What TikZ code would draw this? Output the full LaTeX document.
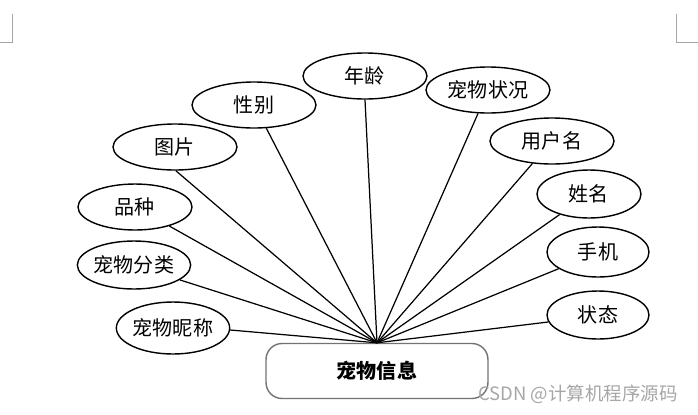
\documentclass[tikz,border=0pt]{standalone}
\usepackage{fontspec}
\setmainfont{Noto Sans CJK SC}
\usetikzlibrary{shapes.geometric}
\begin{document}
\begin{tikzpicture}[x=0.02cm,y=-0.02cm,
		font=\fontsize{11.4}{13.5}\selectfont,
		attr/.style={ellipse,draw,line width=0.8pt,inner sep=0pt,minimum width=2.48cm,minimum height=0.92cm},
		entity/.style={rectangle,draw=black!55,line width=0.8pt,rounded corners=0.32cm,minimum width=4.44cm,minimum height=1.1cm,font=\fontsize{11.4}{13.5}\selectfont\bfseries},
		link/.style={line width=0.7pt},
		cropMark/.style={draw=black!35,line width=0.5pt}]
		\useasboundingbox (0,0) rectangle (698,414);

		\draw[cropMark] (12,14) -- (12,42) -- (0,42);
		\draw[cropMark] (676,14) -- (676,42) -- (698,42);

		\node[entity] (Info) at (377,371) {宠物信息};

		\node[attr,minimum width=2.24cm,minimum height=1.04cm] (Nick) at (173,328) {宠物昵称};
		\node[attr,minimum width=2.24cm,minimum height=0.96cm] (Kind) at (134,265) {宠物分类};
		\node[attr,minimum width=2.28cm] (Breed) at (135,207) {品种};
		\node[attr] (Pic) at (175,147) {图片};
		\node[attr] (Sex) at (254,105) {性别};
		\node[attr] (Age) at (365,76) {年龄};
		\node[attr] (State) at (488,90) {宠物状况};
		\node[attr] (User) at (552,141) {用户名};
		\node[attr,minimum width=2.08cm,minimum height=0.96cm] (Name) at (589,194) {姓名};
		\node[attr,minimum width=2.04cm,minimum height=1.0cm] (Phone) at (598,252) {手机};
		\node[attr,minimum width=2.04cm,minimum height=0.96cm] (Status) at (598,315) {状态};

		\draw[link] (Info.north) -- (Nick.-2);
		\draw[link] (Info.north) -- (Kind.-18);
		\draw[link] (Info.north) -- (Breed.-29);
		\draw[link] (Info.north) -- (Pic.-88);
		\draw[link] (Info.north) -- (Sex.-62);
		\draw[link] (Info.north) -- (Age.-90);
		\draw[link] (Info.north) -- (State.-113);
		\draw[link] (Info.north) -- (User.-131);
		\draw[link] (Info.north) -- (Name.-145);
		\draw[link] (Info.north) -- (Phone.-157);
		\draw[link] (Info.north) -- (Status.-172);

		\node[text=black!35,font=\fontsize{10.5}{12}\selectfont] (Mark) at (578,394) {CSDN @计算机程序源码};
\end{tikzpicture}
\end{document}
